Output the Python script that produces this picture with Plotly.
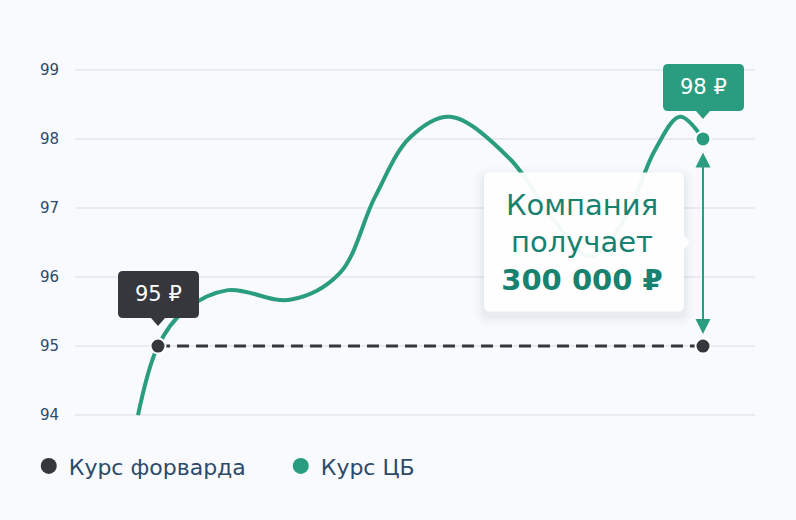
import plotly.graph_objects as go

# курс ЦБ (условная шкала времени)
cb_x = [6.3, 8.3, 11.0, 15.3, 21.5, 26.5, 30.0, 33.5, 37.5, 43.5, 47.5, 51.5,
        55.0, 58.0, 60.5, 62.8]
cb_y = [94.0, 95.0, 95.52, 95.81, 95.67, 96.06, 97.16, 98.02, 98.32, 97.71, 96.9, 96.3,
        96.85, 97.84, 98.32, 98.0]

# курс форварда
fwd_x = [8.3, 62.8]
fwd_y = [95.0, 95.0]

y_ticks = [94, 95, 96, 97, 98, 99]
legend_names = ["Курс форварда", "Курс ЦБ"]
profit_text = "300 000 ₽"

GREEN = "#2a9d80"
DARK = "#35373d"
TEXT = "#2c4a6b"
FONT = "DejaVu Sans"


def rrect(x0, y0, x1, y1, r):
    # скруглённый прямоугольник в пикселях относительно точки привязки
    return (f"M{x0 + r},{y0} L{x1 - r},{y0} Q{x1},{y0} {x1},{y0 + r} "
            f"L{x1},{y1 - r} Q{x1},{y1} {x1 - r},{y1} L{x0 + r},{y1} "
            f"Q{x0},{y1} {x0},{y1 - r} L{x0},{y0 + r} Q{x0},{y0} {x0 + r},{y0} Z")


fig = go.Figure()

fig.add_trace(go.Scatter(x=cb_x, y=cb_y, mode="lines",
                         line=dict(color=GREEN, width=4, shape="spline", smoothing=1.0),
                         showlegend=False))
fig.add_trace(go.Scatter(x=fwd_x, y=fwd_y, mode="lines+markers",
                         line=dict(color=DARK, width=3, dash="12px,7px"),
                         marker=dict(size=15, color=DARK, line=dict(color="white", width=2)),
                         showlegend=False))
fig.add_trace(go.Scatter(x=[cb_x[-1]], y=[cb_y[-1]], mode="markers",
                         marker=dict(size=15, color=GREEN, line=dict(color="white", width=2)),
                         showlegend=False))

# легенда
for name, col in zip(legend_names, [DARK, GREEN]):
    fig.add_trace(go.Scatter(x=[None], y=[None], mode="markers", name=name,
                             marker=dict(size=16, color=col)))


def anchored_shape(x, y, path, color):
    fig.add_shape(type="path", xref="x", yref="y", xsizemode="pixel", ysizemode="pixel",
                  xanchor=x, yanchor=y, path=path, fillcolor=color,
                  line=dict(width=0), layer="above")


# ярлыки цен
def price_tag(x, y, text, col):
    anchored_shape(x, y, rrect(-40, 28, 41, 75, 5), col)
    anchored_shape(x, y, "M-7,28 L7,28 L0,20 Z", col)
    fig.add_annotation(x=x, y=y, xref="x", yref="y", text=text, showarrow=False,
                       font=dict(family=FONT, size=21, color="white"), yshift=52)


price_tag(fwd_x[0], fwd_y[0], f"{fwd_y[0]:.0f} ₽", DARK)
price_tag(cb_x[-1], cb_y[-1], f"{cb_y[-1]:.0f} ₽", GREEN)

# двусторонняя стрелка между курсами
fig.add_annotation(x=cb_x[-1], y=fwd_y[-1], ax=cb_x[-1], ay=cb_y[-1],
                   xref="x", yref="y", axref="x", ayref="y", text="",
                   showarrow=True, arrowside="end+start", arrowhead=2, arrowsize=1.5,
                   arrowwidth=2, arrowcolor=GREEN, standoff=12, startstandoff=12)

# выноска с выгодой
mid_y = (cb_y[-1] + fwd_y[-1]) / 2
for grow, alpha in [(10, 0.01), (7, 0.015), (4, 0.02), (2, 0.025)]:
    anchored_shape(cb_x[-1], mid_y,
                   rrect(-219 - grow, -74 - grow, -19 + grow, 66 + grow, 6 + grow),
                   f"rgba(30,45,70,{alpha})")
anchored_shape(cb_x[-1], mid_y, rrect(-219, -69, -19, 70, 6), "rgba(255,255,255,0.94)")
anchored_shape(cb_x[-1], mid_y, "M-19,7 L-13,0 L-19,-7 Z", "rgba(255,255,255,0.94)")
fig.add_annotation(x=cb_x[-1], y=mid_y, xref="x", yref="y",
                   text=f"Компания<br>получает<br><b>{profit_text}</b>",
                   showarrow=False, xanchor="right", xshift=-19,
                   font=dict(family=FONT, size=29, color="#17826f"),
                   width=200, height=139)

fig.update_xaxes(range=[0, 68], visible=False, fixedrange=True)
fig.update_yaxes(range=[93.9, 99.1], tickvals=y_ticks, showline=False, zeroline=False,
                 gridcolor="#e9ebf0", gridwidth=2, ticklabelstandoff=15,
                 tickfont=dict(family=FONT, size=15, color=TEXT), fixedrange=True)

fig.update_layout(
    width=796, height=520,
    margin=dict(l=75, r=41, t=63, b=98),
    paper_bgcolor="#f8fafd", plot_bgcolor="#f8fafd",
    font=dict(family=FONT, color=TEXT),
    hovermode=False,
    legend=dict(orientation="h", x=-0.068, xanchor="left", y=-0.123, yanchor="middle",
                font=dict(family=FONT, size=22, color=TEXT),
                entrywidth=207, entrywidthmode="pixels", bgcolor="rgba(0,0,0,0)"),
)

fig.write_html("out.html", config={"displayModeBar": False},
               post_script="document.body.style.margin='0';")
